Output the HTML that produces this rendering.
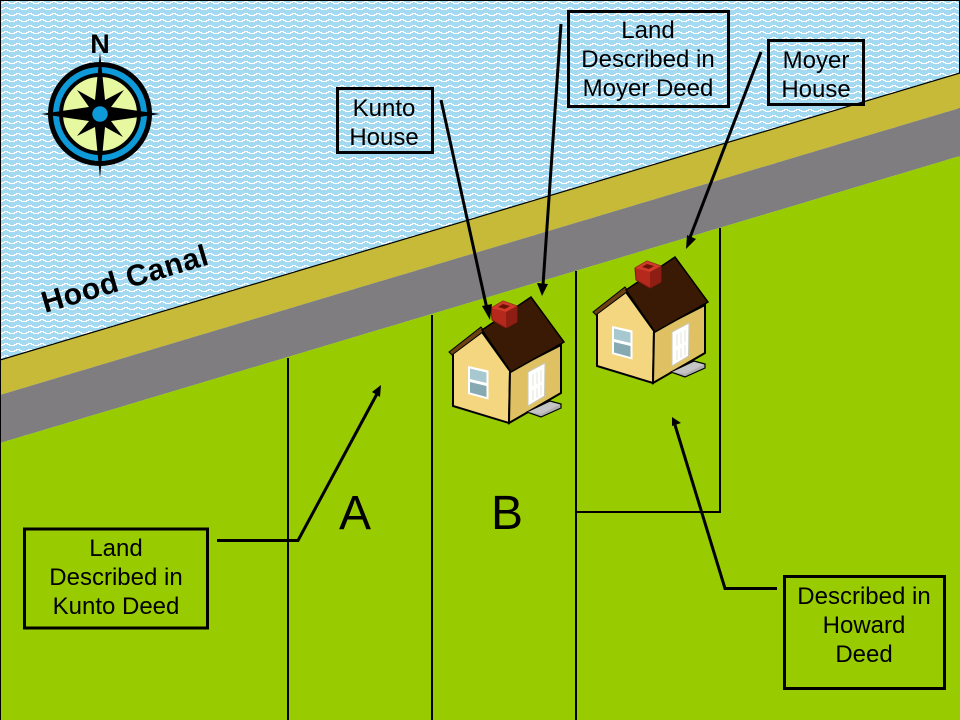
<!DOCTYPE html>
<html>
<head>
<meta charset="utf-8">
<style>
html,body{margin:0;padding:0;background:#fff;width:960px;height:720px;overflow:hidden}
svg{display:block}
text{font-family:"Liberation Sans",sans-serif;fill:#000}
.t{font-size:24px;text-anchor:middle}
.b{fill:none;stroke:#000;stroke-width:3}
.l{fill:none;stroke:#000;stroke-width:2}
.a{fill:none;stroke:#000;stroke-width:3}
</style>
</head>
<body>
<svg width="960" height="720" viewBox="0 0 960 720" xmlns="http://www.w3.org/2000/svg">
<defs>
<pattern id="w" width="12" height="6" patternUnits="userSpaceOnUse">
<rect width="12" height="6" fill="#a3daf2"/>
<g fill="#fff" shape-rendering="crispEdges">
<rect x="4" y="1" width="4" height="1"/>
<rect x="2" y="2" width="3" height="1"/>
<rect x="7" y="2" width="3" height="1"/>
<rect x="0" y="3" width="3" height="1"/>
<rect x="9" y="3" width="3" height="1"/>
</g>
</pattern>
<g id="house">
<polygon points="453,353 482,332 510,371 509,423 453,406" fill="#f3d67f" stroke="#000" stroke-width="2"/>
<polygon points="510,371 561,345 561,393 509,423" fill="#dfc062" stroke="#000" stroke-width="2"/>
<polygon points="449,352 481,327 484,331 452,355" fill="#6b4210" stroke="#000" stroke-width="1"/>
<polygon points="482,330 531,297 564,342 511,372" fill="#3a1a04" stroke="#000" stroke-width="1.500"/>
<polygon points="491,308 503,301 517,306 517,322 506,328 492,320" fill="#b5281c" stroke="#7a1810" stroke-width="1"/>
<polygon points="491,308 503,301 517,306 506,312" fill="#d03a28"/>
<polygon points="498,307 503,304 510,306 505,309" fill="#6d1208"/>
<polygon points="506,312 517,306 517,322 506,328" fill="#8e1e14"/>
<polygon points="468,366 488.500,370.500 488.500,399.500 468,394" fill="#fff"/>
<polygon points="470,368.500 486.500,372.500 486.500,383 470,379" fill="#a8c8d0"/>
<polygon points="470,382 486.500,386 486.500,397 470,392.500" fill="#86a9b2"/>
<polygon points="528,372 545,363 544.500,396 528,406" fill="#fff" stroke="#c8c8b8" stroke-width="1"/>
<path d="M533 374v12M537 372v12M541 370v12M533 390v10M537 388v10M541 385v10" stroke="#e4e4d8" stroke-width="1" fill="none"/>
<polygon points="527,412 550,401 561,404 561,408 541,417" fill="#b0b0b0" stroke="#000" stroke-width="1.200"/>
<polygon points="528,412 541,414 560,404.500 550,402" fill="#c4c4c4"/>
</g>
</defs>

<rect width="960" height="720" fill="url(#w)"/>
<rect x="0.500" y="0.500" width="959" height="719" fill="none" stroke="#000" stroke-width="1"/>
<polygon points="0,360 960,73 960,108 0,395" fill="#c6ba38"/>
<polygon points="0,395 960,108 960,156 0,443" fill="#7f7d80"/>
<polygon points="0,443 960,156 960,720 0,720" fill="#99cc00"/>
<line x1="0" y1="360" x2="960" y2="73" stroke="#000" stroke-width="1.200"/>
<line x1="0.500" y1="360" x2="0.500" y2="720" stroke="#000" stroke-width="1"/>

<path class="l" d="M288 358V720M432 315V720M576 271V720M720 228V512H576"/>

<use href="#house"/>
<use href="#house" x="144" y="-40"/>

<path class="a" d="M441 100L487 309"/>
<polygon points="490,320 482,306 492,304" fill="#000"/>
<path class="a" d="M561 24L543 285"/>
<polygon points="542,296 537,283 548,284" fill="#000"/>
<path class="a" d="M761 52L689 240"/>
<polygon points="686,249 687,235 696,239" fill="#000"/>
<path class="a" d="M217 540.500H298L378 392"/>
<polygon points="381,385 380,397 372,392" fill="#000"/>
<path class="a" d="M777 588.500H725L675 425"/>
<polygon points="672,417 681,423 672,426" fill="#000"/>

<rect class="b" x="337.500" y="88.500" width="95" height="64"/>
<rect class="b" x="568.500" y="11.500" width="160" height="95"/>
<rect class="b" x="768.500" y="40.500" width="95" height="64"/>
<rect class="b" x="24.500" y="529" width="183" height="99"/>
<rect class="b" x="784.500" y="576.500" width="160" height="112"/>

<text class="t" x="384" y="116">Kunto</text>
<text class="t" x="384" y="145">House</text>
<text class="t" x="648" y="38">Land</text>
<text class="t" x="648" y="67">Described in</text>
<text class="t" x="648" y="96">Moyer Deed</text>
<text class="t" x="816" y="68">Moyer</text>
<text class="t" x="816" y="97">House</text>
<text class="t" x="116" y="556">Land</text>
<text class="t" x="116" y="585">Described in</text>
<text class="t" x="116" y="614">Kunto Deed</text>
<text class="t" x="864" y="604">Described in</text>
<text class="t" x="864" y="633">Howard</text>
<text class="t" x="864" y="662">Deed</text>

<text x="355" y="529" font-size="48" text-anchor="middle">A</text>
<text x="507" y="529" font-size="48" text-anchor="middle">B</text>
<text x="45" y="313" font-size="30" font-weight="bold" letter-spacing="0.600" transform="rotate(-16.500 45 313)">Hood Canal</text>

<circle cx="100" cy="114" r="49.500" fill="#0e9ad8" stroke="#000" stroke-width="5"/>
<circle cx="100" cy="114" r="39" fill="#e6f8a0" stroke="#000" stroke-width="4"/>
<polygon points="100,52 105,100 124,90 111,107 160,114 111,121 123,137 105,127 100,178 95,127 77,136 89,121 41,114 89,107 77,90 95,100" fill="#000"/>
<circle cx="100" cy="114" r="7.700" fill="#0e9ad8"/>
<text x="100" y="53" font-size="27" font-weight="bold" text-anchor="middle">N</text>
</svg>
</body>
</html>
